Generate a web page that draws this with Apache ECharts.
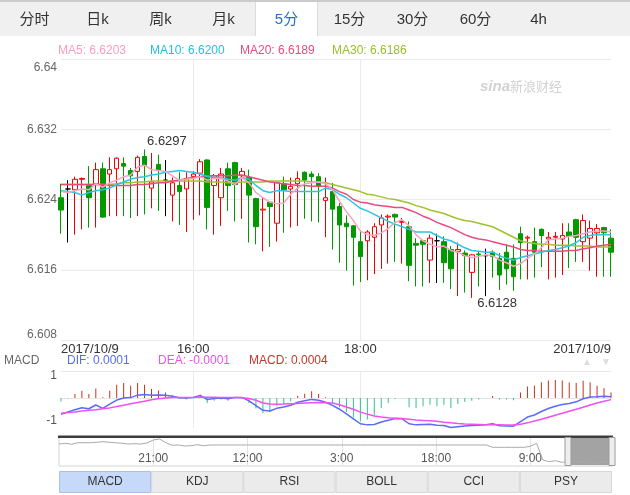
<!DOCTYPE html>
<html>
<head>
<meta charset="utf-8">
<script src="https://cdn.jsdelivr.net/npm/echarts@6/dist/echarts.min.js"></script>
<style>
html, body { margin: 0; padding: 0; background: #fff; }
#main { width: 630px; height: 495px; }
</style>
</head>
<body>
<div id="main"></div>
<script>
// 5 minute candles, 2017/10/9
const times = [
  '14:25','14:30','14:35','14:40','14:45','14:50','14:55',
  '15:00','15:05','15:10','15:15','15:20','15:25','15:30','15:35','15:40','15:45','15:50','15:55',
  '16:00','16:05','16:10','16:15','16:20','16:25','16:30','16:35','16:40','16:45','16:50','16:55',
  '17:00','17:05','17:10','17:15','17:20','17:25','17:30','17:35','17:40','17:45','17:50','17:55',
  '18:00','18:05','18:10','18:15','18:20','18:25','18:30','18:35','18:40','18:45','18:50','18:55',
  '19:00','19:05','19:10','19:15','19:20','19:25','19:30','19:35','19:40','19:45','19:50','19:55',
  '20:00','20:05','20:10','20:15','20:20','20:25','20:30','20:35','20:40','20:45','20:50','20:55',
  '21:00'
];
const opens = [
  6.6242, 6.6252, 6.6251, 6.6263, 6.6256, 6.6258, 6.6275, 6.6269, 6.6275, 6.6281,
  6.6273, 6.6272, 6.6289, 6.6253, 6.6280, 6.6262, 6.6245, 6.6256, 6.6252, 6.6266,
  6.6270, 6.6285, 6.6256, 6.6242, 6.6275, 6.6282, 6.6267, 6.6265, 6.6241, 6.6228,
  6.6237, 6.6213, 6.6258, 6.6252, 6.6258, 6.6271, 6.6269, 6.6266, 6.6239, 6.6249,
  6.6232, 6.6213, 6.6210, 6.6192, 6.6193, 6.6197, 6.6211, 6.6220, 6.6223, 6.6214,
  6.6209, 6.6190, 6.6193, 6.6171, 6.6193, 6.6192, 6.6183, 6.6181, 6.6179, 6.6157,
  6.6178, 6.6176, 6.6180, 6.6173, 6.6180, 6.6173, 6.6201, 6.6196, 6.6192, 6.6206,
  6.6195, 6.6197, 6.6195, 6.6203, 6.6217, 6.6192, 6.6196, 6.6202, 6.6208, 6.6196
];
const closes = [
  6.6228, 6.6252, 6.6263, 6.6264, 6.6242, 6.6274, 6.6220, 6.6274, 6.6287, 6.6278,
  6.6267, 6.6288, 6.6279, 6.6260, 6.6273, 6.6262, 6.6259, 6.6249, 6.6264, 6.6269,
  6.6283, 6.6231, 6.6267, 6.6269, 6.6256, 6.6257, 6.6272, 6.6245, 6.6209, 6.6229,
  6.6232, 6.6259, 6.6251, 6.6255, 6.6264, 6.6262, 6.6266, 6.6255, 6.6242, 6.6229,
  6.6211, 6.6209, 6.6197, 6.6175, 6.6203, 6.6209, 6.6219, 6.6221, 6.6220, 6.6215,
  6.6165, 6.6188, 6.6189, 6.6196, 6.6193, 6.6168, 6.6161, 6.6183, 6.6176, 6.6177,
  6.6177, 6.6176, 6.6175, 6.6154, 6.6161, 6.6152, 6.6191, 6.6197, 6.6180, 6.6199,
  6.6197, 6.6198, 6.6199, 6.6198, 6.6197, 6.6216, 6.6207, 6.6207, 6.6202, 6.6180
];
const lows = [
  6.6201, 6.6191, 6.6200, 6.6206, 6.6208, 6.6208, 6.6219, 6.6221, 6.6221, 6.6221,
  6.6219, 6.6221, 6.6223, 6.6230, 6.6227, 6.6221, 6.6215, 6.6211, 6.6203, 6.6217,
  6.6222, 6.6206, 6.6200, 6.6210, 6.6227, 6.6215, 6.6218, 6.6191, 6.6189, 6.6181,
  6.6186, 6.6192, 6.6202, 6.6208, 6.6210, 6.6218, 6.6215, 6.6214, 6.6197, 6.6183,
  6.6168, 6.6159, 6.6142, 6.6146, 6.6148, 6.6155, 6.6161, 6.6167, 6.6169, 6.6167,
  6.6147, 6.6141, 6.6141, 6.6145, 6.6145, 6.6145, 6.6138, 6.6130, 6.6134, 6.6128,
  6.6141, 6.6130, 6.6151, 6.6137, 6.6143, 6.6136, 6.6149, 6.6149, 6.6151, 6.6163,
  6.6149, 6.6151, 6.6154, 6.6162, 6.6169, 6.6169, 6.6159, 6.6152, 6.6152, 6.6152
];
const highs = [
  6.6258, 6.6262, 6.6266, 6.6265, 6.6278, 6.6282, 6.6282, 6.6288, 6.6288, 6.6288,
  6.6276, 6.6290, 6.6297, 6.6293, 6.6291, 6.6285, 6.6265, 6.6271, 6.6271, 6.6272,
  6.6286, 6.6286, 6.6269, 6.6276, 6.6282, 6.6283, 6.6276, 6.6274, 6.6242, 6.6242,
  6.6238, 6.6260, 6.6266, 6.6265, 6.6272, 6.6272, 6.6272, 6.6270, 6.6265, 6.6259,
  6.6236, 6.6222, 6.6211, 6.6205, 6.6205, 6.6213, 6.6223, 6.6223, 6.6224, 6.6219,
  6.6215, 6.6196, 6.6194, 6.6200, 6.6201, 6.6198, 6.6187, 6.6191, 6.6182, 6.6178,
  6.6181, 6.6184, 6.6182, 6.6179, 6.6189, 6.6189, 6.6209, 6.6199, 6.6208, 6.6207,
  6.6203, 6.6203, 6.6213, 6.6213, 6.6218, 6.6223, 6.6216, 6.6212, 6.6209, 6.6206
];
const ma5 = [
  6.6249, 6.6248, 6.6250, 6.6252, 6.6251, 6.6258, 6.6254, 6.6259, 6.6262, 6.6266,
  6.6268, 6.6277, 6.6279, 6.6274, 6.6273, 6.6272, 6.6267, 6.6262, 6.6263, 6.6264,
  6.6266, 6.6262, 6.6264, 6.6264, 6.6261, 6.6257, 6.6265, 6.6259, 6.6248, 6.6242,
  6.6237, 6.6235, 6.6236, 6.6246, 6.6253, 6.6258, 6.6259, 6.6260, 6.6258, 6.6251,
  6.6238, 6.6226, 6.6216, 6.6204, 6.6200, 6.6199, 6.6202, 6.6207, 6.6214, 6.6217,
  6.6210, 6.6200, 6.6193, 6.6189, 6.6186, 6.6187, 6.6182, 6.6180, 6.6176, 6.6174,
  6.6175, 6.6177, 6.6176, 6.6171, 6.6168, 6.6164, 6.6167, 6.6173, 6.6178, 6.6185,
  6.6194, 6.6195, 6.6196, 6.6198, 6.6199, 6.6201, 6.6203, 6.6204, 6.6204, 6.6203
];
const ma10 = [
  6.6250, 6.6249, 6.6248, 6.6245, 6.6248, 6.6250, 6.6251, 6.6253, 6.6257, 6.6260,
  6.6263, 6.6265, 6.6266, 6.6268, 6.6269, 6.6271, 6.6272, 6.6273, 6.6272, 6.6271,
  6.6269, 6.6266, 6.6265, 6.6265, 6.6263, 6.6262, 6.6265, 6.6263, 6.6256, 6.6250,
  6.6248, 6.6250, 6.6250, 6.6249, 6.6249, 6.6249, 6.6249, 6.6249, 6.6253, 6.6251,
  6.6246, 6.6242, 6.6236, 6.6230, 6.6227, 6.6223, 6.6219, 6.6215, 6.6212, 6.6209,
  6.6206, 6.6203, 6.6203, 6.6203, 6.6199, 6.6195, 6.6193, 6.6189, 6.6185, 6.6182,
  6.6181, 6.6180, 6.6180, 6.6176, 6.6173, 6.6171, 6.6174, 6.6176, 6.6178, 6.6180,
  6.6182, 6.6183, 6.6185, 6.6187, 6.6191, 6.6197, 6.6199, 6.6200, 6.6200, 6.6200
];
const ma20 = [
  6.6257, 6.6257, 6.6257, 6.6257, 6.6257, 6.6257, 6.6257, 6.6256, 6.6256, 6.6256,
  6.6256, 6.6257, 6.6257, 6.6258, 6.6259, 6.6259, 6.6261, 6.6262, 6.6264, 6.6265,
  6.6266, 6.6267, 6.6267, 6.6267, 6.6267, 6.6268, 6.6268, 6.6266, 6.6264, 6.6262,
  6.6260, 6.6259, 6.6258, 6.6257, 6.6256, 6.6256, 6.6255, 6.6255, 6.6255, 6.6253,
  6.6249, 6.6246, 6.6240, 6.6237, 6.6236, 6.6234, 6.6233, 6.6232, 6.6231, 6.6231,
  6.6228, 6.6225, 6.6221, 6.6218, 6.6214, 6.6211, 6.6208, 6.6204, 6.6200, 6.6197,
  6.6195, 6.6194, 6.6192, 6.6190, 6.6188, 6.6186, 6.6183, 6.6182, 6.6182, 6.6181,
  6.6181, 6.6181, 6.6181, 6.6182, 6.6182, 6.6184, 6.6185, 6.6187, 6.6188, 6.6189
];
const ma30 = [
  6.6257, 6.6257, 6.6257, 6.6257, 6.6257, 6.6257, 6.6257, 6.6257, 6.6258, 6.6259,
  6.6259, 6.6260, 6.6260, 6.6261, 6.6261, 6.6261, 6.6261, 6.6261, 6.6261, 6.6261,
  6.6261, 6.6260, 6.6260, 6.6260, 6.6259, 6.6259, 6.6260, 6.6260, 6.6260, 6.6260,
  6.6261, 6.6261, 6.6261, 6.6261, 6.6261, 6.6261, 6.6260, 6.6260, 6.6259, 6.6257,
  6.6255, 6.6253, 6.6251, 6.6249, 6.6246, 6.6245, 6.6243, 6.6241, 6.6240, 6.6238,
  6.6236, 6.6233, 6.6231, 6.6228, 6.6226, 6.6224, 6.6221, 6.6218, 6.6216, 6.6215,
  6.6213, 6.6211, 6.6209, 6.6205, 6.6201, 6.6197, 6.6193, 6.6191, 6.6190, 6.6189,
  6.6189, 6.6188, 6.6188, 6.6188, 6.6187, 6.6187, 6.6187, 6.6186, 6.6186, 6.6186
];
// MACD panel, in the units of its axis labels
const macdBar = [
  -0.15, -0.02, 0.18, 0.33, 0.18, 0.43, 0.04, 0.33, 0.59, 0.67,
  0.55, 0.67, 0.59, 0.40, 0.34, 0.25, 0.12, -0.04, -0.07, -0.01,
  0.15, -0.22, -0.12, -0.07, -0.12, 0.01, 0.04, -0.22, -0.47, -0.67,
  -0.62, -0.37, -0.27, -0.15, 0.10, 0.19, 0.30, 0.19, 0.04, -0.22,
  -0.41, -0.62, -0.86, -1.04, -0.96, -0.77, -0.44, -0.22, -0.04, -0.01,
  -0.41, -0.44, -0.37, -0.30, -0.37, -0.30, -0.44, -0.27, -0.18, -0.12,
  -0.07, -0.01, 0.09, -0.07, -0.07, -0.10, 0.25, 0.52, 0.55, 0.71,
  0.79, 0.81, 0.79, 0.70, 0.67, 0.77, 0.71, 0.55, 0.44, 0.25
];
const dif = [
  -0.73, -0.62, -0.52, -0.43, -0.48, -0.31, -0.46, -0.27, -0.09, 0.00,
  0.02, 0.13, 0.16, 0.12, 0.14, 0.13, 0.08, 0.01, 0.00, 0.03,
  0.12, -0.07, -0.02, 0.00, -0.03, 0.02, 0.03, -0.13, -0.34, -0.55,
  -0.58, -0.46, -0.40, -0.32, -0.19, -0.12, -0.06, -0.10, -0.19, -0.33,
  -0.50, -0.71, -0.93, -1.15, -1.20, -1.18, -1.07, -0.99, -0.92, -0.93,
  -1.15, -1.20, -1.18, -1.17, -1.22, -1.23, -1.32, -1.28, -1.25, -1.23,
  -1.22, -1.19, -1.15, -1.24, -1.25, -1.26, -1.05, -0.85, -0.76, -0.60,
  -0.47, -0.37, -0.29, -0.24, -0.17, -0.03, 0.05, 0.06, 0.08, 0.06
];
const dea = [
  -0.68, -0.65, -0.62, -0.58, -0.55, -0.52, -0.48, -0.44, -0.38, -0.32,
  -0.26, -0.20, -0.14, -0.08, -0.03, 0.00, 0.02, 0.03, 0.03, 0.03,
  0.05, 0.04, 0.04, 0.03, 0.03, 0.02, 0.01, -0.02, -0.10, -0.22,
  -0.27, -0.28, -0.27, -0.25, -0.24, -0.22, -0.21, -0.20, -0.21, -0.22,
  -0.30, -0.40, -0.50, -0.63, -0.72, -0.80, -0.85, -0.88, -0.90, -0.92,
  -0.95, -0.98, -1.00, -1.02, -1.04, -1.08, -1.10, -1.14, -1.16, -1.17,
  -1.18, -1.19, -1.20, -1.20, -1.21, -1.21, -1.17, -1.11, -1.03, -0.95,
  -0.86, -0.77, -0.68, -0.59, -0.50, -0.41, -0.31, -0.22, -0.14, -0.07
];
// overview strip, hourly
const thumbTimes = [
  '10/6 6:00','10/6 7:00','10/6 8:00','10/6 9:00','10/6 10:00','10/6 11:00','10/6 12:00','10/6 13:00','10/6 14:00',
  '10/6 15:00','10/6 16:00','10/6 17:00','10/6 18:00','10/6 19:00','10/6 20:00','10/6 21:00','10/6 22:00','10/6 23:00',
  '10/7 0:00','10/7 1:00','10/7 2:00','10/7 3:00','10/7 4:00','10/7 5:00','10/7 6:00','10/7 7:00','10/7 8:00','10/7 9:00',
  '10/7 10:00','10/7 11:00','10/7 12:00','10/7 13:00','10/7 14:00','10/7 15:00','10/7 16:00','10/7 17:00','10/7 18:00',
  '10/7 19:00','10/7 20:00','10/7 21:00','10/7 22:00','10/7 23:00',
  '10/8 0:00','10/8 1:00','10/8 2:00','10/8 3:00','10/8 4:00','10/8 5:00','10/8 6:00','10/8 7:00','10/8 8:00','10/8 9:00',
  '10/8 10:00','10/8 11:00','10/8 12:00','10/8 13:00','10/8 14:00','10/8 15:00','10/8 16:00','10/8 17:00','10/8 18:00',
  '10/8 19:00','10/8 20:00','10/8 21:00','10/8 22:00','10/8 23:00',
  '10/9 0:00','10/9 1:00','10/9 2:00','10/9 3:00','10/9 4:00','10/9 5:00','10/9 6:00','10/9 7:00','10/9 8:00','10/9 9:00',
  '10/9 10:00','10/9 11:00','10/9 12:00','10/9 13:00','10/9 14:00','10/9 15:00','10/9 16:00','10/9 17:00','10/9 18:00',
  '10/9 19:00','10/9 20:00','10/9 21:00','10/9 22:00'
];
const thumbVals = [
  6.6800, 6.6823, 6.6790, 6.6843, 6.6843, 6.6843, 6.6857, 6.6877, 6.6857, 6.6843,
  6.6823, 6.6800, 6.6810, 6.6800, 6.6833, 6.6933, 6.6967, 6.6843, 6.6757, 6.6767,
  6.6733, 6.6743, 6.6777, 6.6743,
  6.6767, 6.6767, 6.6767, 6.6767, 6.6767, 6.6767, 6.6767, 6.6767, 6.6767,
  6.6767, 6.6767, 6.6767, 6.6767, 6.6767, 6.6767, 6.6767, 6.6767, 6.6767,
  6.6767, 6.6767, 6.6767, 6.6767, 6.6767, 6.6767, 6.6767, 6.6767, 6.6767,
  6.6767, 6.6767, 6.6767, 6.6767, 6.6767, 6.6767, 6.6767, 6.6767, 6.6767,
  6.6767, 6.6767, 6.6767, 6.6767, 6.6767, 6.6767, 6.6767, 6.6767, 6.6767,
  6.6690, 6.6690, 6.6690, 6.6690, 6.6690, 6.6690,
  6.6723, 6.6823, 6.6267, 6.6210, 6.6243, 6.6190, 6.6210, 6.6233, 6.6200, 6.6190,
  6.6157, 6.6200, 6.6210, 6.6177
];
const thumbWindow = [81, 88];
const topTabs = ['分时', '日k', '周k', '月k', '5分', '15分', '30分', '60分', '4h'];
const bottomTabs = ['MACD', 'KDJ', 'RSI', 'BOLL', 'CCI', 'PSY'];
const dateText = '2017/10/9';
const lastMA = ['MA5: 6.6203', 'MA10: 6.6200', 'MA20: 6.6189', 'MA30: 6.6186'];
const macdText = ['DIF: 0.0001', 'DEA: -0.0001', 'MACD: 0.0004'];

const FONT = 'Arial, "Liberation Sans", "Noto Sans CJK SC", sans-serif';
const UP = '#f00000', DOWN = '#009a00';
const splitIdx = [19, 43];
const labelIdx = [0, 19, 43, 79];
const kData = times.map((t, i) => [opens[i], closes[i], lows[i], highs[i]]);

const chart = echarts.init(document.getElementById('main'));

function txt(x, y, s, color, size, align, weight) {
  return {
    type: 'text', x: x, y: y, silent: true, z: 50,
    style: {
      text: s, fill: color, font: (weight || 'normal') + ' ' + size + 'px ' + FONT,
      align: align || 'left', textAlign: align || 'left',
      verticalAlign: 'middle', textVerticalAlign: 'middle'
    }
  };
}
function rect(x, y, w, h, fill, stroke, z) {
  return {
    type: 'rect', silent: true, z: z || 1,
    shape: { x: x, y: y, width: w, height: h },
    style: { fill: fill, stroke: stroke || null, lineWidth: 1 }
  };
}

chart.setOption({
  animation: false,
  backgroundColor: '#fff',
  textStyle: { fontFamily: FONT },
  grid: [
    { left: 61, right: 19, top: 59, height: 281, outerBoundsMode: 'none' },
    { left: 61, right: 19, top: 371, height: 57, outerBoundsMode: 'none' },
    { left: 59, right: 18, top: 438, height: 27, outerBoundsMode: 'none' }
  ],
  xAxis: [
    {
      type: 'category', gridIndex: 0, data: times, boundaryGap: false,
      axisLine: { show: false }, axisTick: { show: false },
      axisLabel: {
        interval: (i) => labelIdx.indexOf(i) >= 0,
        formatter: (v, i) => (i === 0 || i === times.length - 1) ? dateText : v,
        color: '#333', fontSize: 13, margin: 3,
        alignMinLabel: 'left', alignMaxLabel: 'right'
      },
      splitLine: { show: true, interval: (i) => splitIdx.indexOf(i) >= 0, lineStyle: { color: '#ebebeb' } }
    },
    {
      type: 'category', gridIndex: 1, data: times, boundaryGap: false,
      axisLine: { show: true, lineStyle: { color: '#e6e6e6' } }, axisTick: { show: false },
      axisLabel: { show: false },
      splitLine: { show: true, interval: (i) => splitIdx.indexOf(i) >= 0, lineStyle: { color: '#ebebeb' } }
    },
    {
      type: 'category', gridIndex: 1, data: times, boundaryGap: false, position: 'top',
      axisLine: { show: true, lineStyle: { color: '#e6e6e6' } }, axisTick: { show: false },
      axisLabel: { show: false }, splitLine: { show: false }
    },
    {
      type: 'category', gridIndex: 2, data: thumbTimes, boundaryGap: false,
      axisLine: { show: false }, axisTick: { show: false },
      axisLabel: {
        inside: true, margin: 0, color: '#555', fontSize: 12,
        interval: (i) => i > 0 && i % 15 === 0,
        formatter: (v) => v.split(' ')[1]
      },
      splitLine: { show: true, interval: (i) => i > 0 && i % 15 === 0, lineStyle: { color: '#e2e2e2' } }
    }
  ],
  yAxis: [
    {
      type: 'value', gridIndex: 0, min: 6.608, max: 6.64, interval: 0.008,
      axisLine: { show: false }, axisTick: { show: false },
      splitLine: { lineStyle: { color: '#ebebeb' } },
      axisLabel: {
        color: '#666', fontSize: 12, margin: 4,
        formatter: (v) => {
          const s = String(+v.toFixed(3));
          if (Math.abs(v - 6.64) < 1e-6) return '{t|' + s + '}';
          if (Math.abs(v - 6.608) < 1e-6) return '{b|' + s + '}';
          return s;
        },
        rich: {
          t: { color: '#666', fontSize: 12, padding: [18, 0, 0, 0] },
          b: { color: '#666', fontSize: 12, padding: [0, 0, 10, 0] }
        }
      }
    },
    {
      type: 'value', gridIndex: 1, min: -1.34, max: 1.21,
      axisLine: { show: false }, axisTick: { show: false }, splitLine: { show: false },
      axisLabel: {
        customValues: [-1, 1], color: '#555', fontSize: 12, margin: 4,
        formatter: (v) => Math.abs(Math.abs(v) - 1) < 1e-6 ? String(Math.round(v)) : ''
      }
    },
    { type: 'value', gridIndex: 2, min: 6.61, max: 6.70, show: false }
  ],
  series: [
    {
      name: 'K', type: 'candlestick', xAxisIndex: 0, yAxisIndex: 0, data: kData,
      barWidth: 5, clip: false,
      itemStyle: {
        color: '#fff', color0: DOWN, borderColor: UP, borderColor0: DOWN,
        borderColorDoji: '#000', borderWidth: 1
      },
      markPoint: {
        symbol: 'circle', symbolSize: 1, silent: true,
        itemStyle: { color: 'rgba(0,0,0,0)' },
        label: { show: true, color: '#333', fontSize: 13 },
        data: [
          { coord: [times[12], 6.6297], value: 6.6297, label: { formatter: '6.6297', position: [3, -14] } },
          { coord: [times[59], 6.6128], value: 6.6128, label: { formatter: '6.6128', position: [6, 0] } }
        ]
      }
    },
    { name: 'MA30', type: 'line', data: ma30, symbol: 'none', lineStyle: { color: '#a0c22c', width: 1.5 } },
    { name: 'MA20', type: 'line', data: ma20, symbol: 'none', lineStyle: { color: '#ea4a7c', width: 1.5 } },
    { name: 'MA10', type: 'line', data: ma10, symbol: 'none', lineStyle: { color: '#2ec4e4', width: 1.5 } },
    { name: 'MA5', type: 'line', data: ma5, symbol: 'none', lineStyle: { color: '#f8a3c4', width: 1.5 } },
    {
      name: 'MACD', type: 'bar', xAxisIndex: 1, yAxisIndex: 1, data: macdBar, barWidth: 1,
      itemStyle: { color: (p) => p.value >= 0 ? '#c3331c' : '#30c28c' }
    },
    { name: 'DIF', type: 'line', xAxisIndex: 1, yAxisIndex: 1, data: dif, symbol: 'none', lineStyle: { color: '#5a6cf5', width: 1.5 } },
    { name: 'DEA', type: 'line', xAxisIndex: 1, yAxisIndex: 1, data: dea, symbol: 'none', lineStyle: { color: '#f050f0', width: 1.5 } },
    {
      name: 'overview', type: 'line', xAxisIndex: 3, yAxisIndex: 2, data: thumbVals, symbol: 'none',
      lineStyle: { color: '#a9a9a9', width: 1 },
      markArea: {
        silent: true, itemStyle: { color: '#a3a3a3' },
        data: [[{ xAxis: thumbWindow[0] }, { xAxis: thumbWindow[1] }]]
      }
    }
  ]
});

// page chrome
const g = [];
g.push(rect(0, 0, 630, 36, '#f0f0f0'));
g.push(rect(0, 0, 630, 2, '#cbcbcb', null, 2));
const tabW = 63, tab0 = 3, sel = 4;
g.push(rect(tab0 + tabW * sel, 2, tabW, 34, '#fff', null, 3));
g.push({ type: 'line', silent: true, z: 4, shape: { x1: tab0 + tabW * sel + 0.5, y1: 2, x2: tab0 + tabW * sel + 0.5, y2: 36 }, style: { stroke: '#dcdcdc' } });
g.push({ type: 'line', silent: true, z: 4, shape: { x1: tab0 + tabW * (sel + 1) - 0.5, y1: 2, x2: tab0 + tabW * (sel + 1) - 0.5, y2: 36 }, style: { stroke: '#dcdcdc' } });
topTabs.forEach((t, i) => {
  g.push(txt(tab0 + tabW * i + tabW / 2, 20, t, i === sel ? '#2a6cc6' : '#333', 15, 'center'));
});

const maColors = ['#f59fc0', '#26c0dc', '#ea4c7d', '#98bf2c'];
const maX = [58, 150, 240, 332];
lastMA.forEach((t, i) => g.push(txt(maX[i], 51, t, maColors[i], 12)));

g.push(txt(480, 87, 'sina', '#d2d2d2', 15, 'left', 'italic bold'));
g.push(txt(510, 87, '新浪财经', '#d2d2d2', 13));

g.push(txt(4, 361, 'MACD', '#666', 12));
g.push(txt(67, 361, macdText[0], '#5a6cf5', 12));
g.push(txt(158, 361, macdText[1], '#f050f0', 12));
g.push(txt(249, 361, macdText[2], '#c0392b', 12));
g.push(txt(587, 362, '▲', '#dcdcdc', 10, 'center'));
g.push(txt(606, 362, '▼', '#dcdcdc', 10, 'center'));

g.push(rect(59, 437, 553, 29, 'none', '#d4d4d4', 1));
g.push(rect(58, 435.5, 555, 2.5, '#3c3c3c', null, 60));

const lx = chart.convertToPixel({ xAxisIndex: 3 }, thumbWindow[0]);
const rx = chart.convertToPixel({ xAxisIndex: 3 }, thumbWindow[1]);
g.push(rect(lx - 3, 437.5, 6, 28, '#eeeeee', '#9a9a9a', 60));
g.push(rect(rx - 3, 437.5, 6, 28, '#eeeeee', '#9a9a9a', 60));

const bw = 553 / bottomTabs.length;
bottomTabs.forEach((t, i) => {
  const on = i === 0;
  g.push(rect(59 + bw * i + 0.5, 471.5, bw - 1, 21, on ? '#c6d9f8' : '#ebebeb', on ? '#a9c1ea' : '#d6d6d6', 2));
  g.push(txt(59 + bw * i + bw / 2, 482, t, '#333', 12, 'center'));
});

chart.setOption({ graphic: g });
</script>
</body>
</html>
